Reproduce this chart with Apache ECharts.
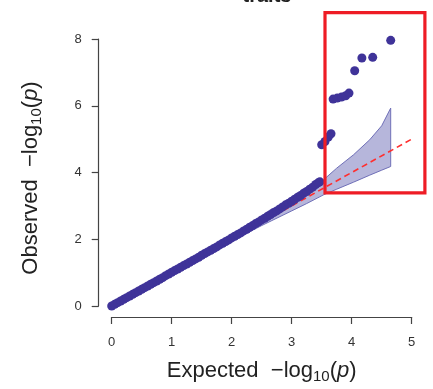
<!DOCTYPE html>
<html>
<head>
<meta charset="utf-8">
<script src="https://cdn.jsdelivr.net/npm/echarts@6/dist/echarts.min.js"></script>
<style>html,body{margin:0;padding:0;background:#fff;}#c{width:433px;height:389px;}</style>
</head>
<body>
<div id="c"></div>
<script>
// ---- data ----
const xTicks = [0, 1, 2, 3, 4, 5];
const yTicks = [0, 2, 4, 6, 8];
const expected = [0.00,0.05,0.10,0.15,0.20,0.25,0.30,0.35,0.40,0.45,0.50,0.55,0.60,0.65,0.70,0.75,0.80,0.85,0.90,0.95,
  1.00,1.05,1.10,1.15,1.20,1.25,1.30,1.35,1.40,1.45,1.50,1.55,1.60,1.65,1.70,1.75,1.80,1.85,1.90,1.95,
  2.00,2.05,2.10,2.15,2.20,2.25,2.30,2.35,2.40,2.45,2.50,2.55,2.60,2.65,2.70,2.75,2.80,2.85,2.90,2.95,
  3.00,3.05,3.10,3.15,3.20,3.25,3.30,3.35,3.40,3.44,3.47,
  3.50,3.555,3.61,3.655,3.69,3.76,3.83,3.90,3.955,4.05,4.17,4.35,4.65];
const observed = [0.00,0.05,0.10,0.15,0.20,0.25,0.30,0.35,0.40,0.45,0.50,0.55,0.60,0.65,0.70,0.75,0.80,0.85,0.91,0.96,
  1.01,1.06,1.11,1.16,1.21,1.26,1.31,1.36,1.41,1.46,1.52,1.57,1.62,1.67,1.72,1.77,1.83,1.88,1.93,1.98,
  2.04,2.09,2.14,2.19,2.25,2.30,2.36,2.41,2.47,2.52,2.58,2.63,2.69,2.74,2.80,2.85,2.91,2.97,3.03,3.08,
  3.14,3.20,3.26,3.31,3.38,3.43,3.50,3.56,3.64,3.69,3.72,
  4.83,4.93,5.06,5.16,6.20,6.23,6.26,6.30,6.38,7.05,7.43,7.45,7.96];
// confidence band: expected, lower, upper
const bandX     = [0.00, 1.00, 2.00, 2.50, 3.00, 3.25, 3.53, 3.75, 4.03, 4.30, 4.50, 4.65];
const bandLower = [0.00, 0.99, 1.95, 2.41, 2.85, 3.07, 3.33, 3.50, 3.71, 3.92, 4.07, 4.18];
const bandUpper = [0.00, 1.01, 2.06, 2.60, 3.22, 3.45, 3.78, 4.13, 4.53, 4.98, 5.40, 5.93];
const refLine = [[-0.2, -0.2], [5.17, 5.17]];
const highlightBox = [3.555, 3.39, 5.22, 8.79]; // x0, y0, x1, y1 in data units

const FONT = 'Liberation Sans, Arial, sans-serif';
const chart = echarts.init(document.getElementById('c'), null, {renderer: 'canvas'});
const points = expected.map((x, i) => [x, observed[i]]);

const richName = {
  a: {fontFamily: FONT, fontSize: 22, color: '#222', lineHeight: 27},
  s: {fontFamily: FONT, fontSize: 15, color: '#222', lineHeight: 15, verticalAlign: 'bottom'},
  i: {fontFamily: FONT, fontSize: 22, color: '#222', fontStyle: 'italic', lineHeight: 27}
};

const option = {
  animation: false,
  backgroundColor: '#fff',
  title: {
    text: 'traits', left: 262, top: -19, textAlign: 'center',
    textStyle: {fontFamily: FONT, fontSize: 20, fontWeight: 'bold', color: '#222'}
  },
  grid: {left: 111.7, right: 21.3, top: 39, bottom: 83, containLabel: false},
  xAxis: {
    type: 'value', min: 0, max: 5, interval: 1, offset: 11,
    axisLine: {show: true, onZero: false, lineStyle: {color: '#444', width: 1.2}},
    axisTick: {show: true, length: 7, lineStyle: {color: '#444', width: 1.2}},
    axisLabel: {margin: 19, fontFamily: FONT, fontSize: 13, color: '#333',
      formatter: v => xTicks.includes(v) ? String(v) : ''},
    splitLine: {show: false},
    name: 'Expected  {a|−log}{s|10}{a|(}{i|p}{a|)}',
    nameLocation: 'middle', nameGap: 40,
    nameTextStyle: {fontFamily: FONT, fontSize: 22, color: '#222', lineHeight: 27, rich: richName}
  },
  yAxis: {
    type: 'value', min: 0, max: 8, interval: 2, offset: 13,
    axisLine: {show: true, onZero: false, lineStyle: {color: '#444', width: 1.2}},
    axisTick: {show: true, length: 7, lineStyle: {color: '#444', width: 1.2}},
    axisLabel: {margin: 17, fontFamily: FONT, fontSize: 13, color: '#333',
      formatter: v => yTicks.includes(v) ? String(v) : ''},
    splitLine: {show: false},
    name: 'Observed  {a|−log}{s|10}{a|(}{i|p}{a|)}',
    nameLocation: 'middle', nameGap: 54, nameRotate: 90,
    nameTextStyle: {fontFamily: FONT, fontSize: 22, color: '#222', lineHeight: 27,
      padding: [0, 11, 0, 0], rich: richName}
  },
  series: [
    {
      type: 'custom', name: 'band', z: 1, clip: false, silent: true,
      data: [0],
      renderItem: (params, api) => {
        const pts = [];
        for (let i = 0; i < bandX.length; i++) pts.push(api.coord([bandX[i], bandUpper[i]]));
        for (let i = bandX.length - 1; i >= 0; i--) pts.push(api.coord([bandX[i], bandLower[i]]));
        return {type: 'polygon', shape: {points: pts},
          style: {fill: '#b6b6db', stroke: '#7070b8', lineWidth: 1}};
      }
    },
    {
      type: 'line', name: 'ref', z: 2, clip: false, silent: true, symbol: 'none',
      data: refLine,
      lineStyle: {color: '#ff2e2e', width: 1.6, type: [6, 4]}
    },
    {
      type: 'scatter', name: 'qq', z: 3, clip: false, symbolSize: 9,
      data: points,
      itemStyle: {color: '#3f3399', opacity: 1}
    },
    {
      type: 'custom', name: 'box', z: 4, clip: false, silent: true,
      data: [0],
      renderItem: (params, api) => {
        const p0 = api.coord([highlightBox[0], highlightBox[3]]);
        const p1 = api.coord([highlightBox[2], highlightBox[1]]);
        return {type: 'rect', shape: {x: p0[0], y: p0[1], width: p1[0] - p0[0], height: p1[1] - p0[1]},
          style: {fill: 'none', stroke: '#ee1c25', lineWidth: 3.2}};
      }
    }
  ]
};
chart.setOption(option);
</script>
</body>
</html>
